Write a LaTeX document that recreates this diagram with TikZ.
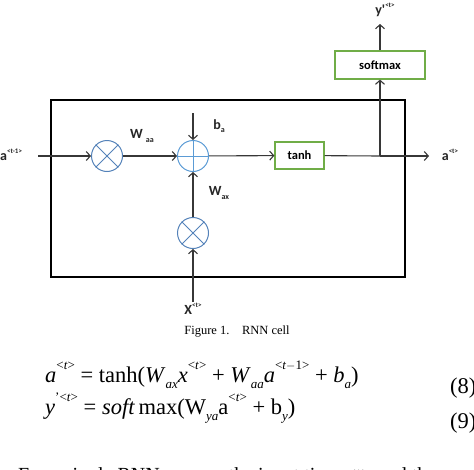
\documentclass[tikz,border=0pt]{standalone}
\usepackage{fontspec}
\setmainfont{Liberation Serif}
\newfontfamily\lab{Carlito}
\usetikzlibrary{arrows.meta}
\definecolor{circblue}{RGB}{84,130,185}
\definecolor{plusblue}{RGB}{91,155,213}
\definecolor{boxgreen}{RGB}{112,173,71}
\definecolor{linegray}{RGB}{55,55,55}
\newcommand\lsup[1]{\raisebox{0.5em}{\fontsize{7}{7}\selectfont #1}}
\newcommand\lsub[1]{\raisebox{-0.25em}{\fontsize{8}{8}\selectfont #1}}
\newcommand\esup[1]{\raisebox{0.55em}{\fontsize{13}{13}\selectfont #1}}
\newcommand\esub[1]{\raisebox{-0.3em}{\fontsize{13}{13}\selectfont #1}}
\tikzset{
  conn/.style={draw=linegray, line width=1.1pt},
  arr/.style={conn, -{Straight Barb[length=4pt,width=9pt,line width=1.1pt]}},
  opcirc/.style={circle, draw=#1, line width=1pt, minimum size=31pt, inner sep=0pt},
  opbox/.style={draw=boxgreen, line width=1.2pt, fill=white, inner sep=0pt, font=\lab\bfseries\fontsize{12.5}{12.5}\selectfont},
  lbl/.style={inner sep=0pt, font=\lab\bfseries\fontsize{14}{14}\selectfont, text=black!85},
  eq/.style={inner sep=0pt, anchor=base west, font=\fontsize{22.5}{22.5}\selectfont},
}
\begin{document}
\begin{tikzpicture}[x=1pt,y=-1pt]
\useasboundingbox (0,0) rectangle (474,469);
% big cell box
\draw[line width=1.4pt, black] (51,100) rectangle (405,277);
% operator nodes
\node[opcirc=circblue] (m1) at (107,156) {};
\node[opcirc=plusblue] (p) at (193,156) {};
\node[opcirc=circblue] (m2) at (193,233) {};
\draw[circblue, line width=1pt] (m1.north east) -- (m1.south west) (m1.north west) -- (m1.south east);
\draw[circblue, line width=1pt] (m2.north east) -- (m2.south west) (m2.north west) -- (m2.south east);
\draw[plusblue, line width=1pt] (p.north) -- (p.south) (p.west) -- (p.east);
\node[opbox, minimum width=49pt, minimum height=27pt] (tanh) at (299.5,155.5) {tanh};
\node[opbox, minimum width=90pt, minimum height=28pt] (soft) at (380,65) {softmax};
% free ends
\coordinate (ain) at (38,156);
\coordinate (bin) at (193,113);
\coordinate (xin) at (193,302);
\coordinate (j) at (380,156);
\coordinate (aout) at (429,156);
\coordinate (yout) at (380,24);
% connectors
\draw[arr] (ain) -- (m1);
\draw[arr] (m1) -- (p);
\draw[arr] (bin) -- (p);
\draw[arr] (m2) -- (p);
\draw[arr] (xin) -- (m2);
\draw[arr] (p) -- (tanh);
\draw[conn] (tanh) -- (j);
\draw[arr] (j) -- (aout);
\draw[arr] (j) -- (soft);
\draw[arr] (soft) -- (yout);
% labels
\node[lbl, anchor=west] (la1) at (0,155) {a\lsup{<t-1>}};
\node[lbl] (lwaa) at (142,136) {W \lsub{aa}};
\node[lbl] (lba) at (219,126) {b\lsub{a}};
\node[lbl] (lwax) at (219,193) {W\lsub{ax}};
\node[lbl] (la) at (450,155) {a\lsup{<t>}};
\node[lbl] (ly) at (385,10) {y'\lsup{<t>}};
\node[lbl] (lx) at (193,309) {X\lsup{<t>}};
% caption
\node[inner sep=0pt, font=\fontsize{12.5}{12.5}\selectfont] (cap) at (237,332) {Figure 1.\quad RNN cell};
% equations
\node[eq] (e8) at (45,382) {\textit{a}\esup{<\textit{t}>} = tanh(\textit{W}\esub{\textit{ax}}\textit{x}\esup{<\textit{t}>} + \textit{W}\esub{\textit{aa}}\textit{a}\esup{<\textit{t}$-$}\esup{1>} + \textit{b}\esub{\textit{a}})};
\node[eq] (n8) at (450,393) {(8)};
\node[eq] (e9) at (45,414) {\textit{y}\esup{'<\textit{t}>} = \textit{soft}\,max(W\esub{\textit{ya}}a\esup{<\textit{t}>} + b\esub{\textit{y}})};
\node[eq] (n9) at (450,428) {(9)};
\node[eq, font=\fontsize{20}{20}\selectfont] (txt) at (18,481) {For a single RNN, we see the input time <t> and the previous};
\end{tikzpicture}
\end{document}
